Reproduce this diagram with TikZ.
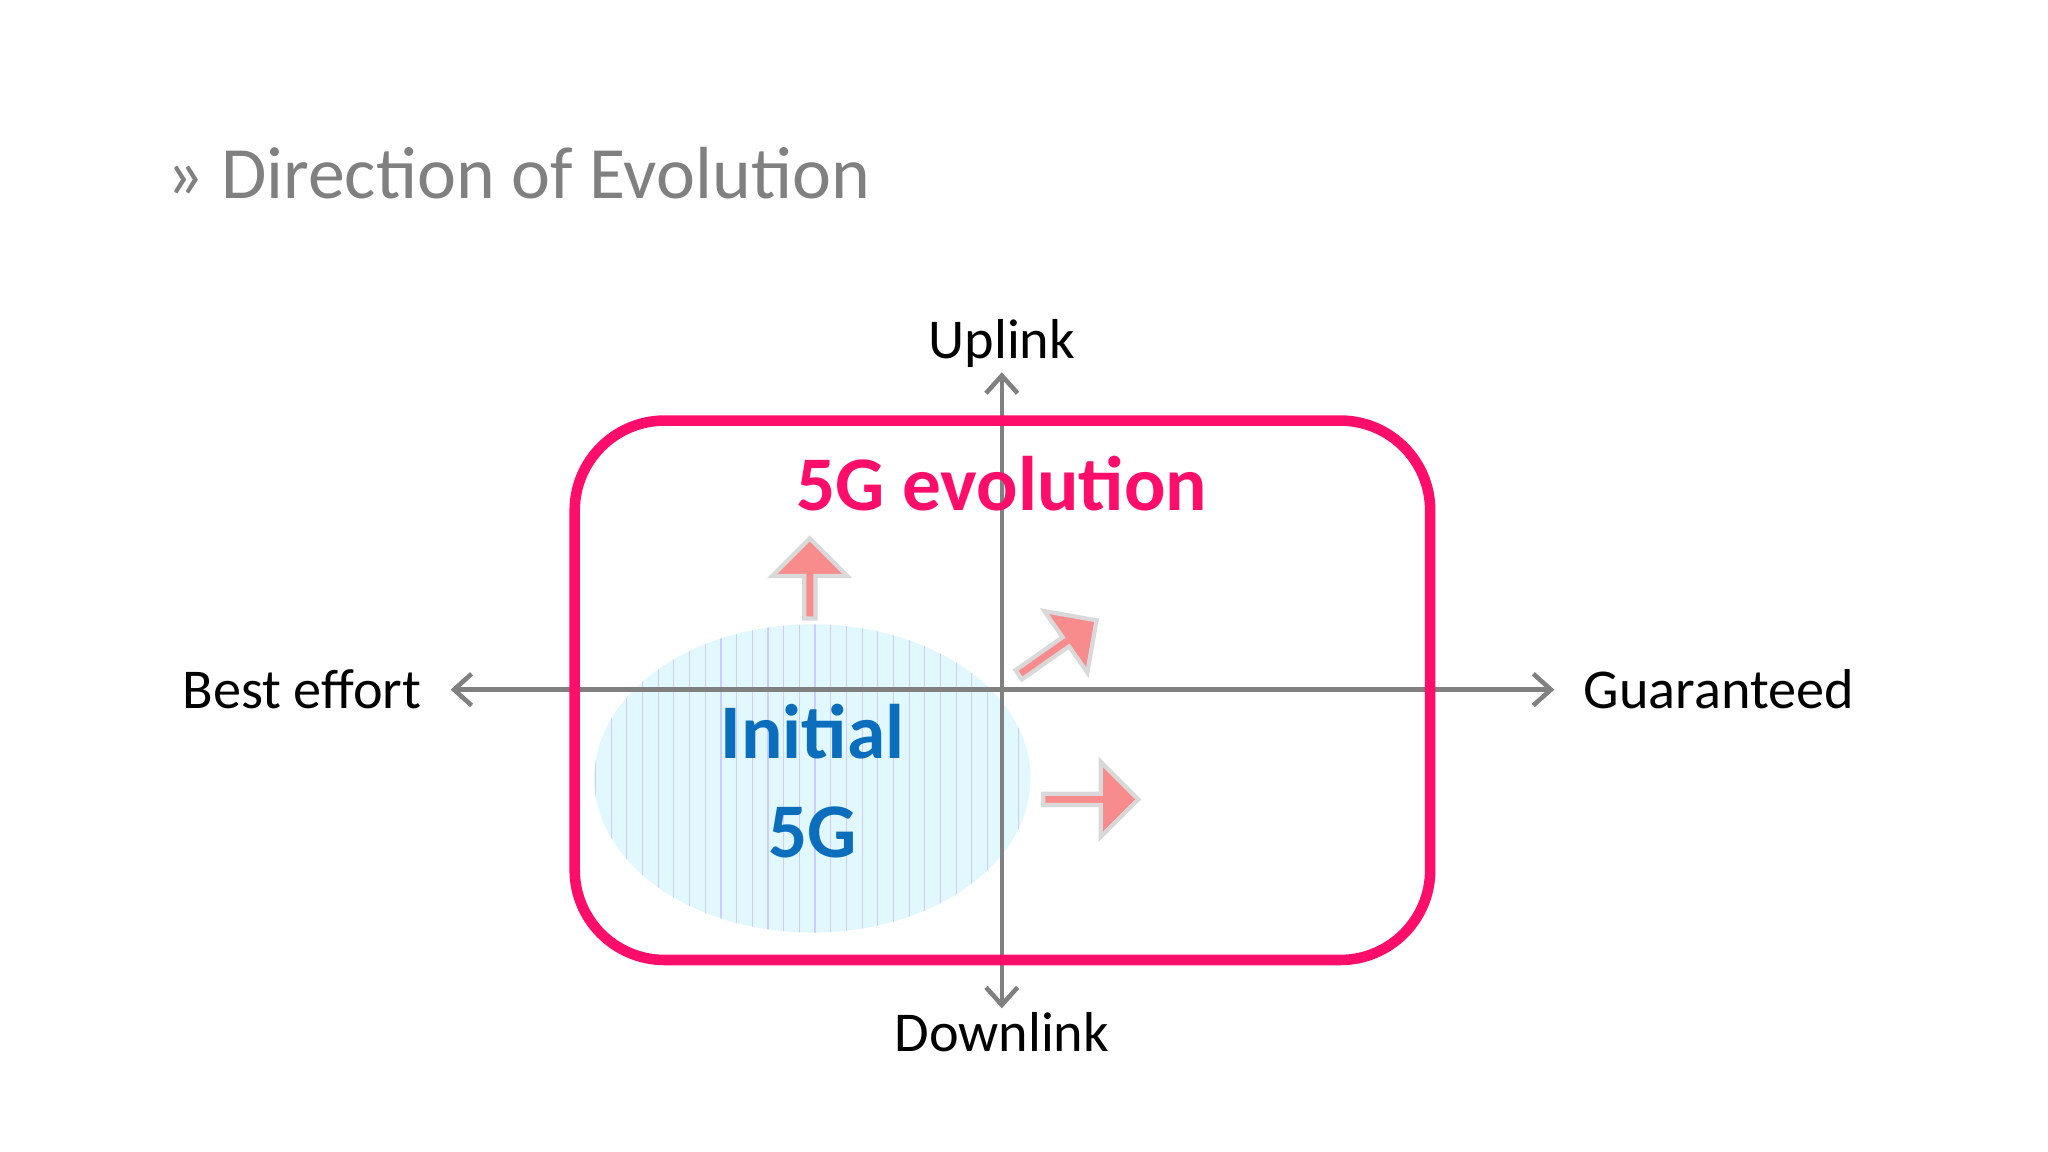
\documentclass[tikz,border=0pt]{standalone}
\usepackage{fontspec}
\setmainfont{Carlito}
\usetikzlibrary{shapes.arrows, arrows.meta}
\definecolor{magentared}{HTML}{FF0D6A}
\definecolor{initblue}{HTML}{0A6EBD}
\definecolor{axisgray}{HTML}{808080}
\definecolor{pinkarrow}{HTML}{F88C8C}
\tikzset{
  axis/.style={axisgray, line width=1.3pt, {Straight Barb[length=5pt,width=9pt]}-{Straight Barb[length=5pt,width=9pt]}},
  axislabel/.style={font=\fontsize{16}{18}\selectfont, text=black},
  growarrow/.style={single arrow, fill=pinkarrow, draw=black!15, line width=1.2pt,
    minimum height=0.8cm, minimum width=0.75cm, single arrow head extend=0.12cm, inner sep=0pt}
}
\begin{document}
\begin{tikzpicture}[x=0.01306cm, y=-0.01306cm]
  \useasboundingbox (0,0) rectangle (1568,882);
  \node[anchor=base west, text=axisgray, font=\fontsize{21}{24}\selectfont] (title) at (118,152) {>> Direction of Evolution};
  % initial region
  \fill[blue!25!cyan!15!white, fill opacity=0.8] (622,596) ellipse (167 and 118);
  \begin{scope}
    \clip (622,596) ellipse (167 and 118);
    \draw[blue!20, line width=0.3pt, step=12] (440,470) grid (800,720);
  \end{scope}
  % axes
  \coordinate (origin) at (767,528);
  \coordinate (left) at (345,528);
  \coordinate (right) at (1190,528);
  \coordinate (top) at (767,285);
  \coordinate (bottom) at (767,772);
  \draw[axis] (left) -- (right);
  \draw[axis] (bottom) -- (top);
  \node[axislabel] (up) at (767,263) {Uplink};
  \node[axislabel] (down) at (767,790) {Downlink};
  \node[axislabel, anchor=east] (best) at (332,528) {Best effort};
  \node[axislabel, anchor=west] (guar) at (1203,528) {Guaranteed};
  % evolution frame
  \draw[magentared, line width=3pt, rounded corners=0.9cm] (440,322) rectangle (1095,735);
  \node[text=magentared, font=\bfseries\fontsize{22}{24}\selectfont] (evo) at (767,370) {5G evolution};
  \node[text=initblue, font=\bfseries\fontsize{22}{26}\selectfont, align=center] (init) at (622,598) {Initial\\[2pt]5G};
  % growth arrows
  \node[growarrow, rotate=90] (aup) at (620,445) {};
  \node[growarrow, rotate=35, minimum height=0.95cm] (adiag) at (808,497) {};
  \node[growarrow, minimum height=0.95cm] (aright) at (833,612) {};
\end{tikzpicture}
\end{document}
